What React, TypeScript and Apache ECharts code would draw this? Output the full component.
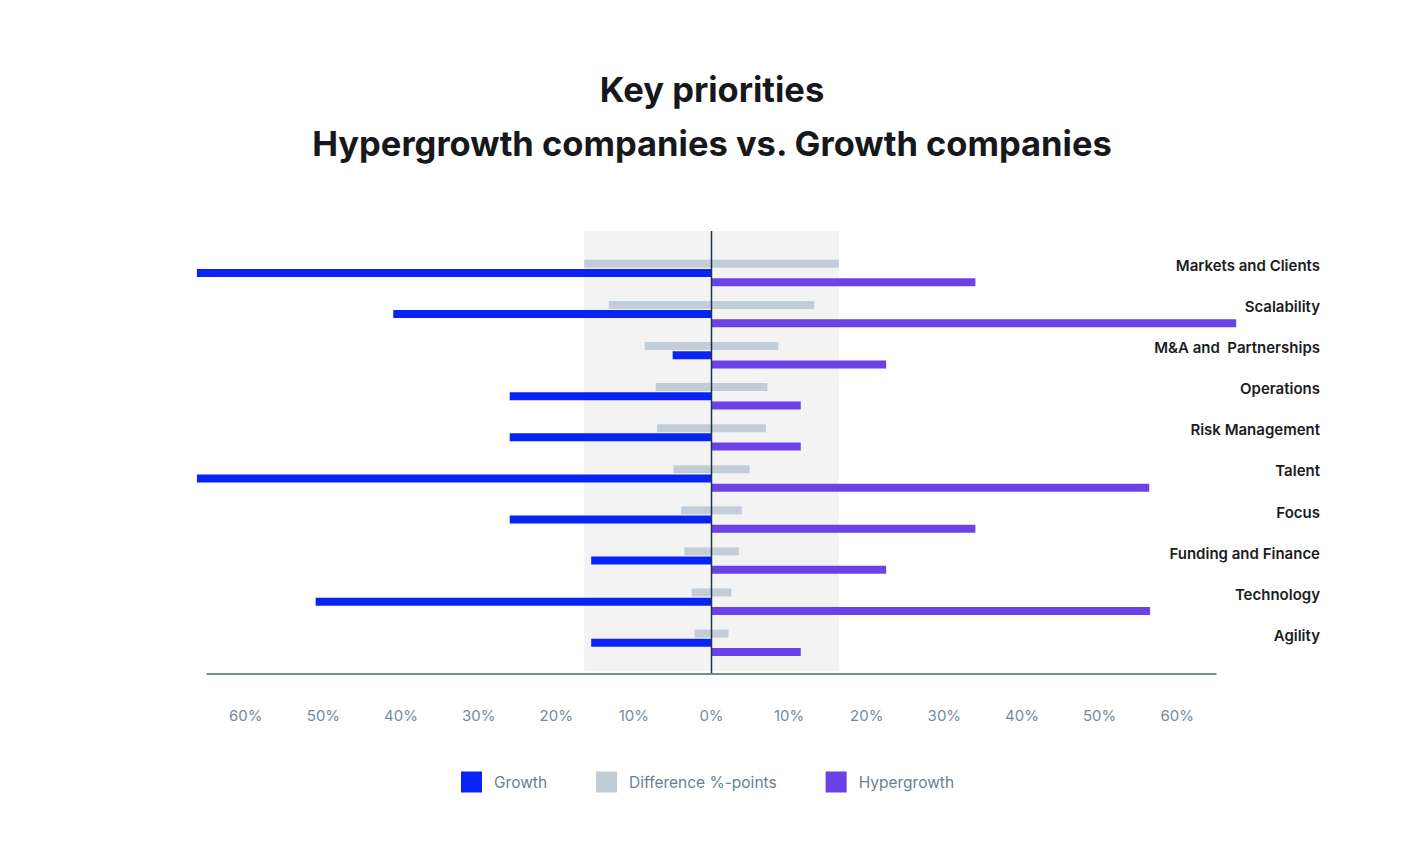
import React, { useEffect, useRef } from "react";
import * as echarts from "echarts";

const categories = [
  "Markets and Clients",
  "Scalability",
  "M&A and  Partnerships",
  "Operations",
  "Risk Management",
  "Talent",
  "Focus",
  "Funding and Finance",
  "Technology",
  "Agility",
];
const growth = [66.3, 41, 5, 26, 26, 66.3, 26, 15.5, 51, 15.5];
const hypergrowth = [34, 67.6, 22.5, 11.5, 11.5, 56.4, 34, 22.5, 56.5, 11.5];
const difference = [32.8, 26.5, 17.2, 14.4, 14, 9.8, 7.8, 7, 5.1, 4.4];
const tickValues = [-60, -50, -40, -30, -20, -10, 0, 10, 20, 30, 40, 50, 60];

const BLUE = "#0A23F5";
const PURPLE = "#6A42E8";
const GRAY = "#C3CDD7";

export default function App() {
  const ref = useRef<HTMLDivElement>(null);
  useEffect(() => {
    if (!ref.current) return;
    const chart = echarts.init(ref.current, null, { renderer: "svg" });
    const bandHalf = Math.max(...difference) / 2;
    const option: any = {
      animation: false,
      backgroundColor: "#ffffff",
      textStyle: { fontFamily: "Inter" },
      title: {
        text: "Key priorities\nHypergrowth companies vs. Growth companies",
        left: "center",
        top: 62,
        padding: 0,
        textStyle: {
          fontSize: 34.5,
          fontWeight: 700,
          color: "#17181C",
          lineHeight: 54,
          fontFamily: "Inter",
        },
      },
      legend: {
        data: ["Growth", "Difference %-points", "Hypergrowth"],
        top: 771.5,
        left: 461,
        padding: 0,
        icon: "rect",
        itemWidth: 21,
        itemHeight: 21,
        itemGap: 49,
        textStyle: {
          fontSize: 15.5,
          color: "#6B7F90",
          padding: [0, 0, 0, 7],
          fontFamily: "Inter",
        },
      },
      grid: { left: 207, right: 208, top: 252.5, height: 410.8 },
      xAxis: {
        type: "value",
        min: -65,
        max: 65,
        offset: 10,
        axisLine: { show: true, lineStyle: { color: "#4A6877", width: 1.5 } },
        axisTick: { show: false },
        splitLine: { show: false },
        axisLabel: {
          customValues: tickValues,
          formatter: (v: number) => Math.abs(v) + "%",
          color: "#778A9A",
          fontSize: 15,
          margin: 35,
        },
      },
      yAxis: {
        type: "category",
        data: categories,
        inverse: true,
        position: "right",
        axisLine: { show: false },
        axisTick: { show: false },
        splitLine: { show: false },
        axisLabel: {
          align: "right",
          verticalAlign: "bottom",
          margin: 104,
          fontSize: 15,
          fontWeight: 600,
          color: "#1B1D22",
        },
      },
      series: [
        {
          type: "custom",
          z: 0,
          silent: true,
          data: [[bandHalf, 0]],
          encode: { x: 0, y: 1 },
          renderItem: (params: any, api: any) => {
            const cs = params.coordSys;
            const h = api.value(0);
            const x0 = api.coord([-h, 0])[0];
            const x1 = api.coord([h, 0])[0];
            return {
              type: "rect",
              shape: { x: x0, y: cs.y - 21.5, width: x1 - x0, height: cs.height + 29.5 },
              style: { fill: "#F3F3F4" },
            };
          },
        },
        {
          name: "Difference %-points",
          type: "bar",
          stack: "diff",
          barWidth: 8,
          barGap: "15%",
          itemStyle: { color: GRAY },
          data: difference.map((d) => -d / 2),
        },
        {
          name: "Difference %-points",
          type: "bar",
          stack: "diff",
          barWidth: 8,
          barGap: "15%",
          itemStyle: { color: GRAY },
          data: difference.map((d) => d / 2),
        },
        {
          name: "Growth",
          type: "bar",
          barWidth: 8,
          barGap: "15%",
          clip: false,
          itemStyle: { color: BLUE },
          data: growth.map((g) => -g),
        },
        {
          name: "Hypergrowth",
          type: "bar",
          barWidth: 8,
          barGap: "15%",
          clip: false,
          itemStyle: { color: PURPLE },
          data: hypergrowth,
        },
        {
          type: "custom",
          z: 5,
          silent: true,
          data: [[0, 0]],
          encode: { x: 0, y: 1 },
          renderItem: (params: any, api: any) => {
            const cs = params.coordSys;
            const x0 = api.coord([api.value(0), 0])[0];
            return {
              type: "line",
              shape: { x1: x0, y1: cs.y - 21.5, x2: x0, y2: cs.y + cs.height + 10 },
              style: { stroke: "#1D3443", lineWidth: 1.5 },
            };
          },
        },
      ],
    };
    chart.setOption(option);
    return () => chart.dispose();
  }, []);
  return (
    <div
      ref={ref}
      style={{ position: "fixed", left: 0, top: 0, width: 1424, height: 855 }}
    />
  );
}
